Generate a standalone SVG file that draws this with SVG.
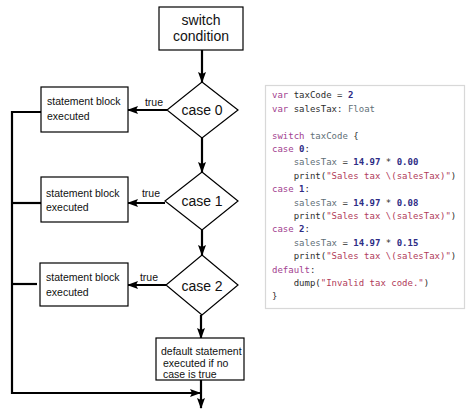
<svg xmlns="http://www.w3.org/2000/svg" width="474" height="415" viewBox="0 0 474 415">
<style>
.box{fill:#fff;stroke:#000;stroke-width:1.2}
.ln{fill:none;stroke:#000;stroke-width:2.2}
.t{font-family:"Liberation Sans",Arial,sans-serif;fill:#111}
.big{font-size:14px}
.sm{font-size:10.5px}
.code{font-family:"DejaVu Sans Mono",monospace;font-size:9px;fill:#2d2d2d;white-space:pre}
.k{fill:#a2418f}
.v{fill:#5f6f77}
.n{fill:#2e2c85;font-weight:bold}
.s{fill:#b13b5a}
</style>
<defs>
<marker id="ah" markerUnits="userSpaceOnUse" markerWidth="11" markerHeight="8" refX="10" refY="4" orient="auto">
<path d="M0,0 L11,4 L0,8 L2,4 z" fill="#000"/>
</marker>
</defs>
<rect width="474" height="415" fill="#fff"/>

<g id="connectors">
<line class="ln" x1="202" y1="50" x2="202" y2="82" marker-end="url(#ah)"/>
<line class="ln" x1="202" y1="138" x2="202" y2="172" marker-end="url(#ah)"/>
<line class="ln" x1="202" y1="230" x2="202" y2="255" marker-end="url(#ah)"/>
<line class="ln" x1="201" y1="315" x2="201" y2="338" marker-end="url(#ah)"/>
<line class="ln" x1="167" y1="110" x2="128" y2="110" marker-end="url(#ah)"/>
<line class="ln" x1="165" y1="203" x2="128" y2="203" marker-end="url(#ah)"/>
<line class="ln" x1="166" y1="285" x2="128" y2="285" marker-end="url(#ah)"/>
<polyline class="ln" points="41,112 12,112 12,393 200,393" marker-end="url(#ah)"/>
<line class="ln" x1="12" y1="203" x2="41" y2="203"/>
<line class="ln" x1="12" y1="284" x2="37" y2="284"/>
<line class="ln" x1="201" y1="380" x2="201" y2="408" marker-end="url(#ah)"/>
<text class="t sm" x="154" y="106" text-anchor="middle">true</text>
<text class="t sm" x="151" y="197" text-anchor="middle">true</text>
<text class="t sm" x="149" y="281" text-anchor="middle">true</text>
</g>

<g id="switch">
<rect class="box" x="159" y="7" width="84" height="43"/>
<text class="t big" x="201" y="25" text-anchor="middle">switch</text>
<text class="t big" x="201" y="41" text-anchor="middle">condition</text>
</g>

<g id="case0">
<polygon class="box" points="202,82 238,110 202,138 167,110"/>
<text class="t big" x="202" y="115" text-anchor="middle">case 0</text>
</g>
<g id="case1">
<polygon class="box" points="202,172 238,201 202,230 165,201"/>
<text class="t big" x="202" y="206" text-anchor="middle">case 1</text>
</g>
<g id="case2">
<polygon class="box" points="202,255 238,285 202,315 166,285"/>
<text class="t big" x="202" y="291" text-anchor="middle">case 2</text>
</g>

<g id="block0">
<rect class="box" x="41" y="87" width="87" height="45"/>
<text class="t sm" x="47" y="105">statement block</text>
<text class="t sm" x="47" y="120">executed</text>
</g>
<g id="block1">
<rect class="box" x="41" y="177" width="87" height="45"/>
<text class="t sm" x="46" y="197">statement block</text>
<text class="t sm" x="46" y="211">executed</text>
</g>
<g id="block2">
<rect class="box" x="40" y="263" width="88" height="43"/>
<text class="t sm" x="46" y="281">statement block</text>
<text class="t sm" x="46" y="296">executed</text>
</g>

<g id="default">
<rect class="box" x="156" y="338" width="88" height="42"/>
<text class="t sm" x="161" y="355">default statement</text>
<text class="t sm" x="163" y="367">executed if no</text>
<text class="t sm" x="163" y="378">case is true</text>
</g>

<g id="code">
<rect x="265.5" y="85.5" width="199" height="223" fill="#fff" stroke="#d8d8d8" stroke-width="1.2"/>
<text class="code" x="272" y="98.3"><tspan class="k">var</tspan> taxCode = <tspan class="n">2</tspan></text>
<text class="code" x="272" y="111.7"><tspan class="k">var</tspan> salesTax: <tspan class="v">Float</tspan></text>
<text class="code" x="272" y="138.5"><tspan class="k">switch</tspan> <tspan class="v">taxCode</tspan> {</text>
<text class="code" x="272" y="151.9"><tspan class="k">case</tspan> <tspan class="n">0</tspan>:</text>
<text class="code" x="272" y="165.3">    <tspan class="v">salesTax</tspan> = <tspan class="n">14.97</tspan> * <tspan class="n">0.00</tspan></text>
<text class="code" x="272" y="178.7">    print(<tspan class="s">"Sales tax \(salesTax)"</tspan>)</text>
<text class="code" x="272" y="192.1"><tspan class="k">case</tspan> <tspan class="n">1</tspan>:</text>
<text class="code" x="272" y="205.5">    <tspan class="v">salesTax</tspan> = <tspan class="n">14.97</tspan> * <tspan class="n">0.08</tspan></text>
<text class="code" x="272" y="218.9">    print(<tspan class="s">"Sales tax \(salesTax)"</tspan>)</text>
<text class="code" x="272" y="232.3"><tspan class="k">case</tspan> <tspan class="n">2</tspan>:</text>
<text class="code" x="272" y="245.7">    <tspan class="v">salesTax</tspan> = <tspan class="n">14.97</tspan> * <tspan class="n">0.15</tspan></text>
<text class="code" x="272" y="259.1">    print(<tspan class="s">"Sales tax \(salesTax)"</tspan>)</text>
<text class="code" x="272" y="272.5"><tspan class="k">default</tspan>:</text>
<text class="code" x="272" y="285.9">    dump(<tspan class="s">"Invalid tax code."</tspan>)</text>
<text class="code" x="272" y="299.3">}</text>
</g>
</svg>
